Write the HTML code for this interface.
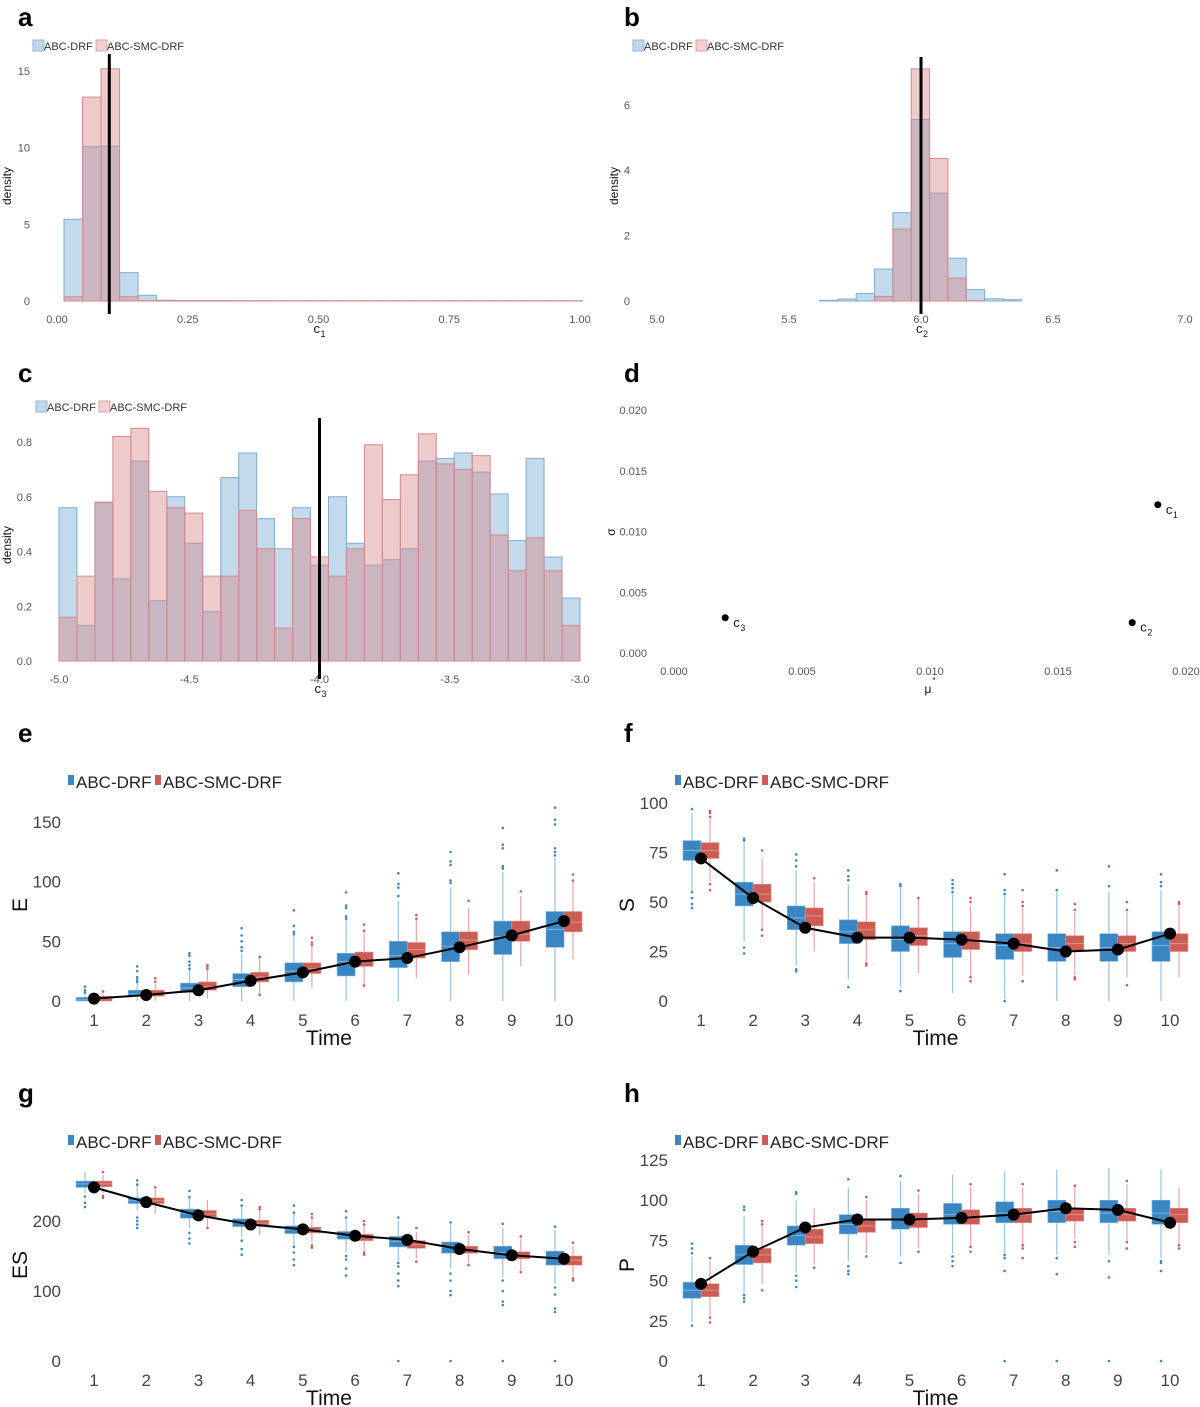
<!DOCTYPE html>
<html><head><meta charset="utf-8"><style>
html,body{margin:0;padding:0;background:#fff}
svg{display:block;font-family:"Liberation Sans",sans-serif}
</style></head><body>
<svg id="fig" width="1200" height="1407" viewBox="0 0 1200 1407" xmlns="http://www.w3.org/2000/svg"></svg>
<script>
// ---------- DATA ----------
const aBlue=[5.33,10.07,10.1,1.85,0.37,0.05,0.03,0.02,0.02,0.01,0.01,0,0,0,0];
const aRed=[0.28,13.3,15.15,0.28,0.02,0.02,0.02,0.02,0.02,0.02,0.02,0.02,0.02,0.02,0.02,0.02,0.02,0.02,0.02,0.02,0.02,0.02,0.02,0.02,0.02,0.02,0.02,0.02];
const bBlue=[0.02,0.06,0.23,0.98,2.7,5.55,3.3,1.31,0.35,0.07,0.04];
const bRed=[0,0,0,0.14,2.2,7.1,4.36,0.7,0.01,0,0];
const cBlue=[0.56,0.13,0.58,0.30,0.73,0.22,0.60,0.43,0.18,0.67,0.76,0.52,0.41,0.56,0.35,0.60,0.43,0.35,0.37,0.41,0.73,0.74,0.76,0.69,0.61,0.44,0.74,0.38,0.23];
const cRed=[0.16,0.31,0.58,0.82,0.85,0.62,0.56,0.54,0.31,0.31,0.55,0.41,0.12,0.52,0.38,0.31,0.41,0.79,0.59,0.68,0.83,0.72,0.70,0.75,0.46,0.33,0.45,0.33,0.13];
const dNames=["1","2","3"];
const dMu=[0.0189,0.0179,0.0020];
const dSigma=[0.0122,0.0025,0.0029];
const times=[1,2,3,4,5,6,7,8,9,10];
// boxes: [lowWhisk,q1,med,q3,highWhisk]
const eBlue=[[0,0,1,3,5],[0,4,6,9,15],[0,7,11,15,26],[0,12,18,23,40],[0,16,25,32,55],[0,21,33,40,68],[0,28,38,50,84],[0,33,46,58,95],[0,39,54,67,108],[0,45,60,75,120]];
const eRed=[[0,0,2,4,6],[0,4,6,9,14],[2,9,12,16,27],[5,16,20,24,36],[11,23,27,32,46],[12,29,34,41,58],[19,36,43,49,68],[22,43,51,58,78],[29,50,56,67,88],[35,58,66,75,100]];
const eBlueOut=[[7,9,12],[16,18,20,25,29],[27,30,33,38,40],[42,45,50,55,61],[56,58,63,76],[69,71,78,80,91],[88,95,98,107],[99,101,114,117,125],[111,113,128,131,145],[122,125,128,148,152,162]];
const eRedOut=[[8],[16,19],[27,29,30],[5,37],[47,49,53],[13,59,64],[69,72],[84],[92],[101,106]];
const ePoint=[2,5,9,17,24,33,36,45,55,67];
const fBlue=[[56,71,76,81,95],[30,48,54,60,80],[18,36,42,48,66],[11,29,35,41,59],[7,25,31,38,57],[4,22,29,35,54],[1,21,28,34,53],[0,20,27,34,55],[0,20,27,34,55],[0,20,28,35,56]];
const fRed=[[60,72,76,80,92],[37,50,54,59,72],[25,38,43,47,60],[20,31,36,40,53],[14,28,33,37,52],[12,26,31,35,48],[13,25,29,34,47],[13,25,29,33,45],[12,25,29,33,45],[12,25,29,34,48]];
const fBlueOut=[[47,49,52,55,97],[24,27,81,82],[15,16,68,71,74],[7,61,63,66],[5,58,59],[55,57,59,61],[0,54,56,64],[56,66],[58,68],[58,60,64]];
const fRedOut=[[56,59,93,95,96],[33,36,76],[62],[18,19,54,55],[52],[10,12,50,52],[10,48,50,56],[11,12,46,49],[8,46,50],[49,50]];
const fPoint=[72,52,37,32,32,31,29,25,26,34];
const gBlue=[[240,248,253,257,270],[215,225,229,233,250],[190,204,211,217,232],[178,192,198,203,220],[165,182,188,193,210],[155,174,180,185,202],[142,163,171,178,200],[132,154,162,170,195],[120,146,155,164,190],[110,137,148,157,188]];
const gRed=[[240,249,253,257,266],[210,225,229,233,245],[192,206,210,215,230],[180,193,197,201,215],[170,183,187,191,203],[158,172,177,181,193],[146,161,166,172,185],[140,154,158,164,180],[130,146,150,156,175],[122,137,144,150,165]];
const gBlueOut=[[220,226,235],[190,195,200,205,252,258],[168,175,183,234,243],[152,160,172,222,230],[137,145,155,163,212,222],[122,132,145,150,205,214],[0,107,115,125,135,140,205],[0,94,100,115,125,198],[0,80,85,100,115,196],[0,70,75,95,105,192]];
const gRedOut=[[233,236,270],[248],[190],[217,220],[162,165,205,210],[152,155,195,200],[142,190],[137,184],[127,178],[115,118,169]];
const gPoint=[248,227,208,195,188,179,173,160,151,146];
const hBlue=[[24,39,44,49,65],[42,60,66,72,90],[55,72,78,84,100],[62,79,85,91,108],[65,82,88,95,112],[67,85,91,98,116],[67,86,92,99,118],[66,86,93,100,119],[66,86,92,100,120],[64,85,92,100,119]];
const hRed=[[28,40,44,48,62],[48,61,66,70,84],[60,73,77,82,95],[67,80,84,88,100],[70,83,88,92,104],[72,85,90,94,108],[73,86,91,95,108],[76,87,91,95,108],[75,87,91,95,110],[73,86,91,95,108]];
const hBlueOut=[[22,67,70,73],[37,39,41,94,96],[46,50,53,104,105],[54,56,59,113],[61,115],[59,62,65],[0,56,64,66],[0,54,64],[0,52,62],[0,56,61,62]];
const hRedOut=[[24,27,64],[44,85,87],[58],[65,102],[68,106],[68,71,110],[64,70,72,110],[71,74,109],[70,74,112],[70,72]];
const hPoint=[48,68,83,88,88,89,91,95,94,86];

// ---------- HELPERS ----------
const NS="http://www.w3.org/2000/svg";
const svg=document.getElementById('fig');
function mk(tag,attrs,parent){const e=document.createElementNS(NS,tag);for(const k in attrs)e.setAttribute(k,attrs[k]);(parent||svg).appendChild(e);return e;}
function txt(x,y,s,size,fill,anchor,parent,extra){const t=mk('text',Object.assign({x:x,y:y,'font-size':size,fill:fill,'text-anchor':anchor||'start'},extra||{}),parent);t.textContent=s;return t;}
function grp(name){const g=mk('g',{});return g;}

// panel letters
const letters=[['a',18,26],['b',624,26],['c',18,382],['d',624,382],['e',18,742],['f',624,742],['g',18,1102],['h',624,1102]];
letters.forEach(l=>{const t=txt(l[1],l[2],l[0],26,'#000','start',svg,{'font-weight':'bold'});});

// ---------- HISTOGRAMS ----------
function hist(o){
  const g=grp(o.name);
  const xs=v=>o.px0+(v-o.d0)/(o.d1-o.d0)*(o.px1-o.px0);
  const ys=v=>o.base-v*o.k;
  const lg=grp(o.name+'-legend');g.appendChild(lg);
  let r=mk('rect',{x:o.lx,y:o.ly-10,width:11,height:11,fill:'rgba(140,182,218,0.55)',stroke:'#8fb8d8'},lg);
  
  txt(o.lx+11,o.ly,'ABC-DRF',11,'#333','start',lg);
  r=mk('rect',{x:o.lx+63,y:o.ly-10,width:11,height:11,fill:'rgba(225,150,150,0.45)',stroke:'#e0a0a0'},lg);
  
  txt(o.lx+74,o.ly,'ABC-SMC-DRF',11,'#333','start',lg);
  const bw=o.bw;
  o.blue.forEach((v,i)=>{if(v<=0)return;const x0=xs(o.start+i*bw),x1=xs(o.start+(i+1)*bw);
    const b=mk('rect',{x:x0,y:ys(v),width:x1-x0,height:v*o.k,fill:'rgba(140,182,218,0.52)',stroke:'#7eaed3','stroke-width':1},g);
    });
  o.red.forEach((v,i)=>{if(v<=0)return;const x0=xs(o.start+i*bw),x1=xs(o.start+(i+1)*bw);
    const b=mk('rect',{x:x0,y:ys(v),width:x1-x0,height:v*o.k,fill:'rgba(215,130,130,0.42)',stroke:'#d48a8a','stroke-width':1},g);
    });
  o.yt.forEach(v=>{txt(o.px0-27,ys(v)+4,v.toFixed(o.ydec),11,'#555','end',g);});
  o.xt.forEach(v=>{txt(xs(v),o.base+22,v.toFixed(o.xdec),11,'#555','middle',g);});
  const tl=mk('line',{x1:xs(o.truth),x2:xs(o.truth),y1:o.lt,y2:o.lb,stroke:'#000','stroke-width':3},g);
  
  const at=txt(o.ytx,o.yty,'density',12,'#111','middle',g,{transform:`rotate(-90 ${o.ytx} ${o.yty})`});
  
  const cx=(o.px0+o.px1)/2;
  const xt=txt(cx-5,o.base+32,'c',13,'#111','start',g);
  
  txt(cx+2,o.base+36,o.sub,9,'#111','start',g);
}
hist({name:'panel-a-histogram',px0:57,px1:580,d0:0,d1:1,base:301,k:15.33,start:0.0134,bw:0.0354,blue:aBlue,red:aRed,
  yt:[0,5,10,15],ydec:0,xt:[0,0.25,0.5,0.75,1],xdec:2,truth:0.1,lt:54,lb:314,lx:33,ly:50,ytx:11,yty:186,sub:'1'});
hist({name:'panel-b-histogram',px0:657,px1:1185,d0:5,d1:7,base:301,k:32.7,start:5.6155,bw:0.0695,blue:bBlue,red:bRed,
  yt:[0,2,4,6],ydec:0,xt:[5,5.5,6,6.5,7],xdec:1,truth:6.0,lt:57,lb:314,lx:633,ly:50,ytx:618,yty:186,sub:'2'});
hist({name:'panel-c-histogram',px0:59,px1:580,d0:-5,d1:-3,base:661,k:273.75,start:-5,bw:2/29,blue:cBlue,red:cRed,
  yt:[0,0.2,0.4,0.6,0.8],ydec:1,xt:[-5,-4.5,-4,-3.5,-3],xdec:1,truth:-4,lt:418,lb:679,lx:36,ly:411,ytx:11,yty:545,sub:'3'});

// ---------- SCATTER d ----------
(function(){
  const g=grp('panel-d-scatter');
  const xs=v=>674+v/0.02*512, ys=v=>653-v/0.02*243;
  [0,0.005,0.01,0.015,0.02].forEach(v=>{txt(xs(v),ys(0)+22,v.toFixed(3),11,'#555','middle',g);txt(647,ys(v)+4,v.toFixed(3),11,'#555','end',g);});
  const yt=txt(615,532,'σ',12,'#111','middle',g,{transform:'rotate(-90 615 532)'});
  const xt=txt(928,693,'μ',12,'#111','middle',g);
  txt(934,683,'*',8,'#111','middle',g);
  dMu.forEach((m,i)=>{const c=mk('circle',{cx:xs(m),cy:ys(dSigma[i]),r:3.5,fill:'#000'},g);
    
    txt(xs(m)+8,ys(dSigma[i])+9,'c',13,'#111','start',g);txt(xs(m)+15,ys(dSigma[i])+13,dNames[i],9,'#111','start',g);});
})();

// ---------- BOXPLOTS ----------
function boxPanel(o){
  const g=grp(o.name);
  const xs=i=>o.x1+(o.x10-o.x1)/9*i;
  const ys=v=>o.base-v*o.k;
  const lg=grp(o.name+'-legend');g.appendChild(lg);
  let r=mk('rect',{x:o.lx,y:o.ly-13,width:6,height:10,fill:'#3a86c2'},lg);
  txt(o.lx+8,o.ly,'ABC-DRF',17,'#222','start',lg);
  r=mk('rect',{x:o.lx+87,y:o.ly-13,width:6,height:10,fill:'#cc5d54'},lg);
  txt(o.lx+95,o.ly,'ABC-SMC-DRF',17,'#222','start',lg);
  o.yt.forEach(v=>txt(o.tickX,ys(v)+6,String(v),17,'#444','end',g));
  times.forEach((t,i)=>txt(xs(i),o.base+25,String(t),17,'#444','middle',g));
  const xt=txt((o.x1+o.x10)/2,o.base+44,'Time',21,'#111','middle',g);
  const yt=txt(o.ytx,o.yty,o.ylab,21,'#111','middle',g,{transform:`rotate(-90 ${o.ytx} ${o.yty})`});
  function drawBox(b,out,cx,fill,line,nm){
    const bg=grp(nm);g.appendChild(bg);
    mk('line',{x1:cx,x2:cx,y1:ys(b[0]),y2:ys(b[4]),stroke:line,'stroke-width':1.2,'stroke-opacity':0.8},bg);
    mk('rect',{x:cx-9,y:ys(b[3]),width:18,height:Math.max(1.5,(b[3]-b[1])*o.k),fill:fill,stroke:line,'stroke-width':0.6},bg);
    mk('line',{x1:cx-9,x2:cx+9,y1:ys(b[2]),y2:ys(b[2]),stroke:line,'stroke-width':1},bg);
    out.forEach(v=>mk('circle',{cx:cx,cy:ys(v),r:1.3,fill:fill},bg));
  }
  times.forEach((t,i)=>{
    drawBox(o.blue[i],o.blueOut[i],xs(i)-9,'#3a86c2','#7fb4dc','box-abc-drf-t'+t);
    drawBox(o.red[i],o.redOut[i],xs(i)+9,'#cc5d54','#e19089','box-abc-smc-drf-t'+t);
  });
  const pts=o.pts.map((v,i)=>xs(i)+','+ys(v)).join(' ');
  const pl=mk('polyline',{points:pts,fill:'none',stroke:'#000','stroke-width':2},g);
  
  o.pts.forEach((v,i)=>{const c=mk('circle',{cx:xs(i),cy:ys(v),r:6,fill:'#000'},g);
    });
}
boxPanel({name:'panel-e-boxplot',x1:94,x10:564,base:1001,k:1.193,yt:[0,50,100,150],tickX:61,ylab:'E',ytx:27,yty:905,lx:68,ly:788,
  blue:eBlue,red:eRed,blueOut:eBlueOut,redOut:eRedOut,pts:ePoint});
boxPanel({name:'panel-f-boxplot',x1:701,x10:1170,base:1001,k:1.98,yt:[0,25,50,75,100],tickX:668,ylab:'S',ytx:634,yty:905,lx:675,ly:788,
  blue:fBlue,red:fRed,blueOut:fBlueOut,redOut:fRedOut,pts:fPoint});
boxPanel({name:'panel-g-boxplot',x1:94,x10:564,base:1361,k:0.7,yt:[0,100,200],tickX:61,ylab:'ES',ytx:27,yty:1265,lx:68,ly:1148,
  blue:gBlue,red:gRed,blueOut:gBlueOut,redOut:gRedOut,pts:gPoint});
boxPanel({name:'panel-h-boxplot',x1:701,x10:1170,base:1361,k:1.608,yt:[0,25,50,75,100,125],tickX:668,ylab:'P',ytx:634,yty:1265,lx:675,ly:1148,
  blue:hBlue,red:hRed,blueOut:hBlueOut,redOut:hRedOut,pts:hPoint});
</script>
</body></html>
